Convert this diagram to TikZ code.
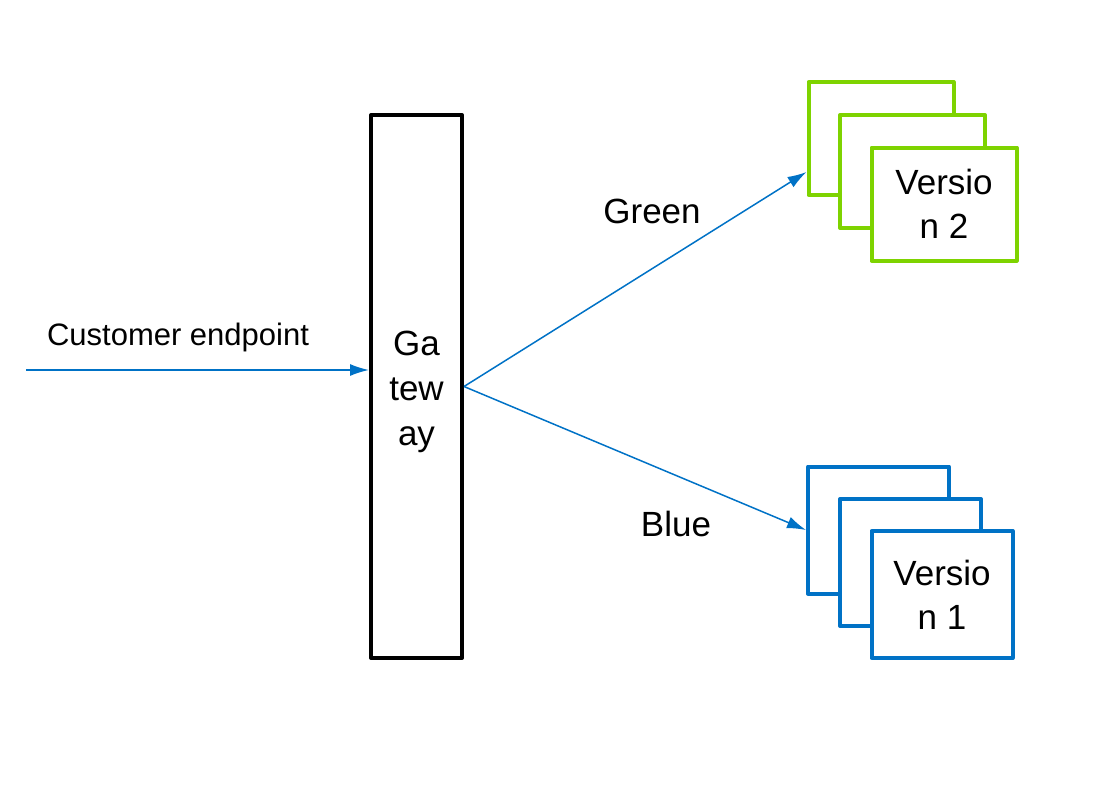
\documentclass[tikz,border=0pt]{standalone}
\usepackage{fontspec}
\setmainfont{Liberation Sans}
\usetikzlibrary{arrows.meta,positioning}

\definecolor{gblue}{RGB}{0,114,198}
\definecolor{glime}{RGB}{126,211,0}

\tikzset{
  gate/.style={draw,line width=4pt,line join=round,minimum width=91pt,minimum height=543pt,
    font=\fontsize{35}{45}\selectfont,align=center},
  greenbox/.style={draw=glime,fill=white,line width=4pt,line join=round,minimum width=145pt,
    minimum height=113pt,font=\fontsize{35}{44}\selectfont,align=center},
  bluebox/.style={draw=gblue,fill=white,line width=4pt,line join=round,minimum width=141pt,
    minimum height=127pt,font=\fontsize{35}{44}\selectfont,align=center},
  route/.style={->,draw=gblue,line width=1.5pt},
  lbl/.style={font=\fontsize{35}{42}\selectfont}
}

\begin{document}
\begin{tikzpicture}[x=1pt,y=-1pt,>={Latex[length=19pt,width=12pt]},node distance=3cm,on grid]
  \useasboundingbox (0,0) rectangle (1094,792);
  \node[gate] (gw) at (416.5,386.5) {};
  \node[font=\fontsize{35}{45}\selectfont,align=center] (gwtxt) at (416.5,391.5) {Ga\\tew\\ay};
  % version 2 stack
  \node[greenbox] (g1) at (881,138.5) {};
  \node[greenbox] (g2) [below right=33pt and 31.5pt of g1] {};
  \node[greenbox] (g3) [below right=32.5pt and 31.5pt of g2] {Versio\\n 2};
  % version 1 stack
  \node[bluebox] (b1) at (878.5,530) {};
  \node[bluebox] (b2) [below right=32.5pt and 32pt of b1] {};
  \node[bluebox] (b3) [below right=32pt and 31.5pt of b2] {Versio\\n 1};
  \coordinate (cust) at (26,370);
  \node[font=\fontsize{31}{36}\selectfont] (custlbl) at (178,337) {Customer endpoint};
  \node[lbl] (glbl) at (652,211) {Green};
  \node[lbl] (blbl) at (676,524) {Blue};
  \draw[route] (cust) -- (cust -| gw.west);
  \draw[route] (gw.east) -- ([yshift=-33.5pt]g1.west);
  \draw[route] (gw.east) -- (b1.west);
\end{tikzpicture}
\end{document}
